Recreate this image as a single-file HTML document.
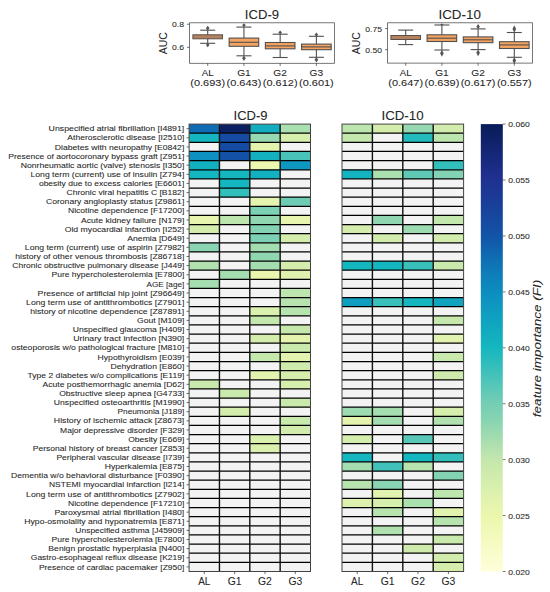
<!DOCTYPE html>
<html><head><meta charset="utf-8"><style>
html,body{margin:0;padding:0;background:#fff;width:550px;height:592px;overflow:hidden}
svg{display:block}
text{font-family:"Liberation Sans", sans-serif;stroke:#262626;stroke-width:0.07px}
</style></head><body>
<svg width="550" height="592" viewBox="0 0 550 592">
<rect width="550" height="592" fill="#fff"/>
<rect x="189.1" y="124.1" width="121.40" height="447.40" fill="#f3f3f3"/>
<rect x="189.10" y="124.10" width="30.35" height="9.13" fill="#106cb2"/>
<rect x="219.45" y="124.10" width="30.35" height="9.13" fill="#0c1f61"/>
<rect x="249.80" y="124.10" width="30.35" height="9.13" fill="#12adbf"/>
<rect x="280.15" y="124.10" width="30.35" height="9.13" fill="#aadfaf"/>
<rect x="189.10" y="133.23" width="30.35" height="9.13" fill="#14b7bf"/>
<rect x="219.45" y="133.23" width="30.35" height="9.13" fill="#154ba2"/>
<rect x="249.80" y="133.23" width="30.35" height="9.13" fill="#96d8b1"/>
<rect x="280.15" y="133.23" width="30.35" height="9.13" fill="#d7efad"/>
<rect x="219.45" y="142.36" width="30.35" height="9.13" fill="#154ba2"/>
<rect x="249.80" y="142.36" width="30.35" height="9.13" fill="#e4f4ae"/>
<rect x="189.10" y="151.49" width="30.35" height="9.13" fill="#0c91c0"/>
<rect x="219.45" y="151.49" width="30.35" height="9.13" fill="#1351a6"/>
<rect x="249.80" y="151.49" width="30.35" height="9.13" fill="#13b1bf"/>
<rect x="280.15" y="151.49" width="30.35" height="9.13" fill="#49c3b9"/>
<rect x="189.10" y="160.62" width="30.35" height="9.13" fill="#13b1bf"/>
<rect x="249.80" y="160.62" width="30.35" height="9.13" fill="#edf7b0"/>
<rect x="280.15" y="160.62" width="30.35" height="9.13" fill="#0e97c0"/>
<rect x="189.10" y="169.75" width="30.35" height="9.13" fill="#14b7bf"/>
<rect x="219.45" y="169.75" width="30.35" height="9.13" fill="#14b7bf"/>
<rect x="249.80" y="169.75" width="30.35" height="9.13" fill="#13b1bf"/>
<rect x="219.45" y="178.88" width="30.35" height="9.13" fill="#14b7bf"/>
<rect x="219.45" y="188.01" width="30.35" height="9.13" fill="#32bebb"/>
<rect x="249.80" y="197.14" width="30.35" height="9.13" fill="#e4f4ae"/>
<rect x="280.15" y="197.14" width="30.35" height="9.13" fill="#6eccb4"/>
<rect x="249.80" y="206.28" width="30.35" height="9.13" fill="#7cd0b3"/>
<rect x="189.10" y="215.41" width="30.35" height="9.13" fill="#e7f5ae"/>
<rect x="219.45" y="215.41" width="30.35" height="9.13" fill="#bde5ae"/>
<rect x="249.80" y="215.41" width="30.35" height="9.13" fill="#90d6b1"/>
<rect x="280.15" y="215.41" width="30.35" height="9.13" fill="#e7f5ae"/>
<rect x="189.10" y="224.54" width="30.35" height="9.13" fill="#d4edad"/>
<rect x="249.80" y="224.54" width="30.35" height="9.13" fill="#82d2b3"/>
<rect x="249.80" y="233.67" width="30.35" height="9.13" fill="#7cd0b3"/>
<rect x="280.15" y="233.67" width="30.35" height="9.13" fill="#d4edad"/>
<rect x="189.10" y="242.80" width="30.35" height="9.13" fill="#89d4b2"/>
<rect x="249.80" y="242.80" width="30.35" height="9.13" fill="#a3ddb0"/>
<rect x="249.80" y="251.93" width="30.35" height="9.13" fill="#90d6b1"/>
<rect x="189.10" y="261.06" width="30.35" height="9.13" fill="#b0e1af"/>
<rect x="249.80" y="261.06" width="30.35" height="9.13" fill="#a3ddb0"/>
<rect x="280.15" y="261.06" width="30.35" height="9.13" fill="#d4edad"/>
<rect x="219.45" y="270.19" width="30.35" height="9.13" fill="#a3ddb0"/>
<rect x="249.80" y="270.19" width="30.35" height="9.13" fill="#eaf6ae"/>
<rect x="280.15" y="270.19" width="30.35" height="9.13" fill="#def1ae"/>
<rect x="189.10" y="279.32" width="30.35" height="9.13" fill="#a3ddb0"/>
<rect x="280.15" y="288.45" width="30.35" height="9.13" fill="#bde5ae"/>
<rect x="280.15" y="297.58" width="30.35" height="9.13" fill="#b7e3ae"/>
<rect x="249.80" y="306.71" width="30.35" height="9.13" fill="#daf0ae"/>
<rect x="280.15" y="306.71" width="30.35" height="9.13" fill="#b7e3ae"/>
<rect x="249.80" y="315.84" width="30.35" height="9.13" fill="#c4e7ad"/>
<rect x="280.15" y="324.97" width="30.35" height="9.13" fill="#c7e8ad"/>
<rect x="249.80" y="334.10" width="30.35" height="9.13" fill="#d4edad"/>
<rect x="280.15" y="334.10" width="30.35" height="9.13" fill="#e4f4ae"/>
<rect x="280.15" y="343.23" width="30.35" height="9.13" fill="#caeaad"/>
<rect x="249.80" y="352.37" width="30.35" height="9.13" fill="#c7e8ad"/>
<rect x="280.15" y="352.37" width="30.35" height="9.13" fill="#e1f3ae"/>
<rect x="280.15" y="361.50" width="30.35" height="9.13" fill="#ceebad"/>
<rect x="249.80" y="370.63" width="30.35" height="9.13" fill="#e1f3ae"/>
<rect x="280.15" y="370.63" width="30.35" height="9.13" fill="#d4edad"/>
<rect x="189.10" y="379.76" width="30.35" height="9.13" fill="#caeaad"/>
<rect x="280.15" y="379.76" width="30.35" height="9.13" fill="#d7efad"/>
<rect x="219.45" y="388.89" width="30.35" height="9.13" fill="#caeaad"/>
<rect x="280.15" y="398.02" width="30.35" height="9.13" fill="#caeaad"/>
<rect x="219.45" y="407.15" width="30.35" height="9.13" fill="#d4edad"/>
<rect x="280.15" y="416.28" width="30.35" height="9.13" fill="#caeaad"/>
<rect x="280.15" y="425.41" width="30.35" height="9.13" fill="#d1ecad"/>
<rect x="249.80" y="434.54" width="30.35" height="9.13" fill="#daf0ae"/>
<rect x="249.80" y="443.67" width="30.35" height="9.13" fill="#daf0ae"/>
<line x1="189.1" y1="133.23" x2="310.5" y2="133.23" stroke="#000" stroke-width="1.25"/>
<line x1="189.1" y1="142.36" x2="310.5" y2="142.36" stroke="#000" stroke-width="1.25"/>
<line x1="189.1" y1="151.49" x2="310.5" y2="151.49" stroke="#000" stroke-width="1.25"/>
<line x1="189.1" y1="160.62" x2="310.5" y2="160.62" stroke="#000" stroke-width="1.25"/>
<line x1="189.1" y1="169.75" x2="310.5" y2="169.75" stroke="#000" stroke-width="1.25"/>
<line x1="189.1" y1="178.88" x2="310.5" y2="178.88" stroke="#000" stroke-width="1.25"/>
<line x1="189.1" y1="188.01" x2="310.5" y2="188.01" stroke="#000" stroke-width="1.25"/>
<line x1="189.1" y1="197.14" x2="310.5" y2="197.14" stroke="#000" stroke-width="1.25"/>
<line x1="189.1" y1="206.28" x2="310.5" y2="206.28" stroke="#000" stroke-width="1.25"/>
<line x1="189.1" y1="215.41" x2="310.5" y2="215.41" stroke="#000" stroke-width="1.25"/>
<line x1="189.1" y1="224.54" x2="310.5" y2="224.54" stroke="#000" stroke-width="1.25"/>
<line x1="189.1" y1="233.67" x2="310.5" y2="233.67" stroke="#000" stroke-width="1.25"/>
<line x1="189.1" y1="242.80" x2="310.5" y2="242.80" stroke="#000" stroke-width="1.25"/>
<line x1="189.1" y1="251.93" x2="310.5" y2="251.93" stroke="#000" stroke-width="1.25"/>
<line x1="189.1" y1="261.06" x2="310.5" y2="261.06" stroke="#000" stroke-width="1.25"/>
<line x1="189.1" y1="270.19" x2="310.5" y2="270.19" stroke="#000" stroke-width="1.25"/>
<line x1="189.1" y1="279.32" x2="310.5" y2="279.32" stroke="#000" stroke-width="1.25"/>
<line x1="189.1" y1="288.45" x2="310.5" y2="288.45" stroke="#000" stroke-width="1.25"/>
<line x1="189.1" y1="297.58" x2="310.5" y2="297.58" stroke="#000" stroke-width="1.25"/>
<line x1="189.1" y1="306.71" x2="310.5" y2="306.71" stroke="#000" stroke-width="1.25"/>
<line x1="189.1" y1="315.84" x2="310.5" y2="315.84" stroke="#000" stroke-width="1.25"/>
<line x1="189.1" y1="324.97" x2="310.5" y2="324.97" stroke="#000" stroke-width="1.25"/>
<line x1="189.1" y1="334.10" x2="310.5" y2="334.10" stroke="#000" stroke-width="1.25"/>
<line x1="189.1" y1="343.23" x2="310.5" y2="343.23" stroke="#000" stroke-width="1.25"/>
<line x1="189.1" y1="352.37" x2="310.5" y2="352.37" stroke="#000" stroke-width="1.25"/>
<line x1="189.1" y1="361.50" x2="310.5" y2="361.50" stroke="#000" stroke-width="1.25"/>
<line x1="189.1" y1="370.63" x2="310.5" y2="370.63" stroke="#000" stroke-width="1.25"/>
<line x1="189.1" y1="379.76" x2="310.5" y2="379.76" stroke="#000" stroke-width="1.25"/>
<line x1="189.1" y1="388.89" x2="310.5" y2="388.89" stroke="#000" stroke-width="1.25"/>
<line x1="189.1" y1="398.02" x2="310.5" y2="398.02" stroke="#000" stroke-width="1.25"/>
<line x1="189.1" y1="407.15" x2="310.5" y2="407.15" stroke="#000" stroke-width="1.25"/>
<line x1="189.1" y1="416.28" x2="310.5" y2="416.28" stroke="#000" stroke-width="1.25"/>
<line x1="189.1" y1="425.41" x2="310.5" y2="425.41" stroke="#000" stroke-width="1.25"/>
<line x1="189.1" y1="434.54" x2="310.5" y2="434.54" stroke="#000" stroke-width="1.25"/>
<line x1="189.1" y1="443.67" x2="310.5" y2="443.67" stroke="#000" stroke-width="1.25"/>
<line x1="189.1" y1="452.80" x2="310.5" y2="452.80" stroke="#000" stroke-width="1.25"/>
<line x1="189.1" y1="461.93" x2="310.5" y2="461.93" stroke="#000" stroke-width="1.25"/>
<line x1="189.1" y1="471.06" x2="310.5" y2="471.06" stroke="#000" stroke-width="1.25"/>
<line x1="189.1" y1="480.19" x2="310.5" y2="480.19" stroke="#000" stroke-width="1.25"/>
<line x1="189.1" y1="489.32" x2="310.5" y2="489.32" stroke="#000" stroke-width="1.25"/>
<line x1="189.1" y1="498.46" x2="310.5" y2="498.46" stroke="#000" stroke-width="1.25"/>
<line x1="189.1" y1="507.59" x2="310.5" y2="507.59" stroke="#000" stroke-width="1.25"/>
<line x1="189.1" y1="516.72" x2="310.5" y2="516.72" stroke="#000" stroke-width="1.25"/>
<line x1="189.1" y1="525.85" x2="310.5" y2="525.85" stroke="#000" stroke-width="1.25"/>
<line x1="189.1" y1="534.98" x2="310.5" y2="534.98" stroke="#000" stroke-width="1.25"/>
<line x1="189.1" y1="544.11" x2="310.5" y2="544.11" stroke="#000" stroke-width="1.25"/>
<line x1="189.1" y1="553.24" x2="310.5" y2="553.24" stroke="#000" stroke-width="1.25"/>
<line x1="189.1" y1="562.37" x2="310.5" y2="562.37" stroke="#000" stroke-width="1.25"/>
<line x1="219.45" y1="124.1" x2="219.45" y2="571.5" stroke="#111" stroke-width="1.4"/>
<line x1="249.80" y1="124.1" x2="249.80" y2="571.5" stroke="#111" stroke-width="1.4"/>
<line x1="280.15" y1="124.1" x2="280.15" y2="571.5" stroke="#111" stroke-width="1.4"/>
<rect x="189.1" y="124.1" width="121.40" height="447.40" fill="none" stroke="#444" stroke-width="1.0"/>
<line x1="204.28" y1="571.5" x2="204.28" y2="574.1" stroke="#333" stroke-width="0.7"/>
<line x1="234.62" y1="571.5" x2="234.62" y2="574.1" stroke="#333" stroke-width="0.7"/>
<line x1="264.98" y1="571.5" x2="264.98" y2="574.1" stroke="#333" stroke-width="0.7"/>
<line x1="295.32" y1="571.5" x2="295.32" y2="574.1" stroke="#333" stroke-width="0.7"/>
<text x="204.28" y="584.70" font-size="10.20" text-anchor="middle" fill="#262626" textLength="12.16" lengthAdjust="spacingAndGlyphs">AL</text>
<text x="234.62" y="584.70" font-size="10.20" text-anchor="middle" fill="#262626" textLength="13.83" lengthAdjust="spacingAndGlyphs">G1</text>
<text x="264.98" y="584.70" font-size="10.20" text-anchor="middle" fill="#262626" textLength="13.83" lengthAdjust="spacingAndGlyphs">G2</text>
<text x="295.32" y="584.70" font-size="10.20" text-anchor="middle" fill="#262626" textLength="13.83" lengthAdjust="spacingAndGlyphs">G3</text>
<rect x="342.0" y="124.1" width="121.60" height="447.40" fill="#f3f3f3"/>
<rect x="342.00" y="124.10" width="30.40" height="9.13" fill="#bde5ae"/>
<rect x="372.40" y="124.10" width="30.40" height="9.13" fill="#d4edad"/>
<rect x="402.80" y="124.10" width="30.40" height="9.13" fill="#96d8b1"/>
<rect x="433.20" y="124.10" width="30.40" height="9.13" fill="#d1ecad"/>
<rect x="342.00" y="133.23" width="30.40" height="9.13" fill="#c4e7ad"/>
<rect x="402.80" y="133.23" width="30.40" height="9.13" fill="#23bbbd"/>
<rect x="433.20" y="133.23" width="30.40" height="9.13" fill="#bde5ae"/>
<rect x="433.20" y="160.62" width="30.40" height="9.13" fill="#32bebb"/>
<rect x="342.00" y="169.75" width="30.40" height="9.13" fill="#13b4bf"/>
<rect x="372.40" y="169.75" width="30.40" height="9.13" fill="#aadfaf"/>
<rect x="402.80" y="169.75" width="30.40" height="9.13" fill="#5fc9b6"/>
<rect x="433.20" y="169.75" width="30.40" height="9.13" fill="#82d2b3"/>
<rect x="372.40" y="215.41" width="30.40" height="9.13" fill="#90d6b1"/>
<rect x="433.20" y="215.41" width="30.40" height="9.13" fill="#c4e7ad"/>
<rect x="342.00" y="224.54" width="30.40" height="9.13" fill="#d4edad"/>
<rect x="402.80" y="224.54" width="30.40" height="9.13" fill="#9ddbb0"/>
<rect x="372.40" y="233.67" width="30.40" height="9.13" fill="#d1ecad"/>
<rect x="433.20" y="233.67" width="30.40" height="9.13" fill="#d1ecad"/>
<rect x="342.00" y="261.06" width="30.40" height="9.13" fill="#14b7bf"/>
<rect x="372.40" y="261.06" width="30.40" height="9.13" fill="#14b7bf"/>
<rect x="402.80" y="261.06" width="30.40" height="9.13" fill="#3ac0bb"/>
<rect x="433.20" y="261.06" width="30.40" height="9.13" fill="#caeaad"/>
<rect x="342.00" y="297.58" width="30.40" height="9.13" fill="#0f9dc0"/>
<rect x="372.40" y="297.58" width="30.40" height="9.13" fill="#3ac0bb"/>
<rect x="402.80" y="297.58" width="30.40" height="9.13" fill="#14b7bf"/>
<rect x="433.20" y="297.58" width="30.40" height="9.13" fill="#10a4bf"/>
<rect x="433.20" y="315.84" width="30.40" height="9.13" fill="#c7e8ad"/>
<rect x="433.20" y="334.10" width="30.40" height="9.13" fill="#e1f3ae"/>
<rect x="433.20" y="352.37" width="30.40" height="9.13" fill="#caeaad"/>
<rect x="433.20" y="370.63" width="30.40" height="9.13" fill="#ceebad"/>
<rect x="342.00" y="407.15" width="30.40" height="9.13" fill="#9ddbb0"/>
<rect x="372.40" y="407.15" width="30.40" height="9.13" fill="#a3ddb0"/>
<rect x="433.20" y="407.15" width="30.40" height="9.13" fill="#d7efad"/>
<rect x="342.00" y="416.28" width="30.40" height="9.13" fill="#e4f4ae"/>
<rect x="372.40" y="416.28" width="30.40" height="9.13" fill="#a3ddb0"/>
<rect x="433.20" y="416.28" width="30.40" height="9.13" fill="#b0e1af"/>
<rect x="342.00" y="434.54" width="30.40" height="9.13" fill="#d4edad"/>
<rect x="402.80" y="434.54" width="30.40" height="9.13" fill="#58c7b7"/>
<rect x="342.00" y="452.80" width="30.40" height="9.13" fill="#14b7bf"/>
<rect x="402.80" y="452.80" width="30.40" height="9.13" fill="#14b7bf"/>
<rect x="433.20" y="452.80" width="30.40" height="9.13" fill="#32bebb"/>
<rect x="342.00" y="461.93" width="30.40" height="9.13" fill="#a3ddb0"/>
<rect x="372.40" y="461.93" width="30.40" height="9.13" fill="#41c2ba"/>
<rect x="402.80" y="461.93" width="30.40" height="9.13" fill="#b7e3ae"/>
<rect x="433.20" y="471.06" width="30.40" height="9.13" fill="#82d2b3"/>
<rect x="342.00" y="480.19" width="30.40" height="9.13" fill="#b7e3ae"/>
<rect x="372.40" y="480.19" width="30.40" height="9.13" fill="#89d4b2"/>
<rect x="372.40" y="489.32" width="30.40" height="9.13" fill="#e1f3ae"/>
<rect x="433.20" y="489.32" width="30.40" height="9.13" fill="#bde5ae"/>
<rect x="342.00" y="498.46" width="30.40" height="9.13" fill="#def1ae"/>
<rect x="372.40" y="498.46" width="30.40" height="9.13" fill="#d7efad"/>
<rect x="402.80" y="498.46" width="30.40" height="9.13" fill="#aadfaf"/>
<rect x="372.40" y="507.59" width="30.40" height="9.13" fill="#b7e3ae"/>
<rect x="433.20" y="507.59" width="30.40" height="9.13" fill="#e1f3ae"/>
<rect x="433.20" y="516.72" width="30.40" height="9.13" fill="#b7e3ae"/>
<rect x="372.40" y="525.85" width="30.40" height="9.13" fill="#b0e1af"/>
<rect x="433.20" y="534.98" width="30.40" height="9.13" fill="#caeaad"/>
<rect x="402.80" y="544.11" width="30.40" height="9.13" fill="#ceebad"/>
<rect x="433.20" y="553.24" width="30.40" height="9.13" fill="#d1ecad"/>
<rect x="433.20" y="562.37" width="30.40" height="9.13" fill="#d4edad"/>
<line x1="342.0" y1="133.23" x2="463.6" y2="133.23" stroke="#000" stroke-width="1.25"/>
<line x1="342.0" y1="142.36" x2="463.6" y2="142.36" stroke="#000" stroke-width="1.25"/>
<line x1="342.0" y1="151.49" x2="463.6" y2="151.49" stroke="#000" stroke-width="1.25"/>
<line x1="342.0" y1="160.62" x2="463.6" y2="160.62" stroke="#000" stroke-width="1.25"/>
<line x1="342.0" y1="169.75" x2="463.6" y2="169.75" stroke="#000" stroke-width="1.25"/>
<line x1="342.0" y1="178.88" x2="463.6" y2="178.88" stroke="#000" stroke-width="1.25"/>
<line x1="342.0" y1="188.01" x2="463.6" y2="188.01" stroke="#000" stroke-width="1.25"/>
<line x1="342.0" y1="197.14" x2="463.6" y2="197.14" stroke="#000" stroke-width="1.25"/>
<line x1="342.0" y1="206.28" x2="463.6" y2="206.28" stroke="#000" stroke-width="1.25"/>
<line x1="342.0" y1="215.41" x2="463.6" y2="215.41" stroke="#000" stroke-width="1.25"/>
<line x1="342.0" y1="224.54" x2="463.6" y2="224.54" stroke="#000" stroke-width="1.25"/>
<line x1="342.0" y1="233.67" x2="463.6" y2="233.67" stroke="#000" stroke-width="1.25"/>
<line x1="342.0" y1="242.80" x2="463.6" y2="242.80" stroke="#000" stroke-width="1.25"/>
<line x1="342.0" y1="251.93" x2="463.6" y2="251.93" stroke="#000" stroke-width="1.25"/>
<line x1="342.0" y1="261.06" x2="463.6" y2="261.06" stroke="#000" stroke-width="1.25"/>
<line x1="342.0" y1="270.19" x2="463.6" y2="270.19" stroke="#000" stroke-width="1.25"/>
<line x1="342.0" y1="279.32" x2="463.6" y2="279.32" stroke="#000" stroke-width="1.25"/>
<line x1="342.0" y1="288.45" x2="463.6" y2="288.45" stroke="#000" stroke-width="1.25"/>
<line x1="342.0" y1="297.58" x2="463.6" y2="297.58" stroke="#000" stroke-width="1.25"/>
<line x1="342.0" y1="306.71" x2="463.6" y2="306.71" stroke="#000" stroke-width="1.25"/>
<line x1="342.0" y1="315.84" x2="463.6" y2="315.84" stroke="#000" stroke-width="1.25"/>
<line x1="342.0" y1="324.97" x2="463.6" y2="324.97" stroke="#000" stroke-width="1.25"/>
<line x1="342.0" y1="334.10" x2="463.6" y2="334.10" stroke="#000" stroke-width="1.25"/>
<line x1="342.0" y1="343.23" x2="463.6" y2="343.23" stroke="#000" stroke-width="1.25"/>
<line x1="342.0" y1="352.37" x2="463.6" y2="352.37" stroke="#000" stroke-width="1.25"/>
<line x1="342.0" y1="361.50" x2="463.6" y2="361.50" stroke="#000" stroke-width="1.25"/>
<line x1="342.0" y1="370.63" x2="463.6" y2="370.63" stroke="#000" stroke-width="1.25"/>
<line x1="342.0" y1="379.76" x2="463.6" y2="379.76" stroke="#000" stroke-width="1.25"/>
<line x1="342.0" y1="388.89" x2="463.6" y2="388.89" stroke="#000" stroke-width="1.25"/>
<line x1="342.0" y1="398.02" x2="463.6" y2="398.02" stroke="#000" stroke-width="1.25"/>
<line x1="342.0" y1="407.15" x2="463.6" y2="407.15" stroke="#000" stroke-width="1.25"/>
<line x1="342.0" y1="416.28" x2="463.6" y2="416.28" stroke="#000" stroke-width="1.25"/>
<line x1="342.0" y1="425.41" x2="463.6" y2="425.41" stroke="#000" stroke-width="1.25"/>
<line x1="342.0" y1="434.54" x2="463.6" y2="434.54" stroke="#000" stroke-width="1.25"/>
<line x1="342.0" y1="443.67" x2="463.6" y2="443.67" stroke="#000" stroke-width="1.25"/>
<line x1="342.0" y1="452.80" x2="463.6" y2="452.80" stroke="#000" stroke-width="1.25"/>
<line x1="342.0" y1="461.93" x2="463.6" y2="461.93" stroke="#000" stroke-width="1.25"/>
<line x1="342.0" y1="471.06" x2="463.6" y2="471.06" stroke="#000" stroke-width="1.25"/>
<line x1="342.0" y1="480.19" x2="463.6" y2="480.19" stroke="#000" stroke-width="1.25"/>
<line x1="342.0" y1="489.32" x2="463.6" y2="489.32" stroke="#000" stroke-width="1.25"/>
<line x1="342.0" y1="498.46" x2="463.6" y2="498.46" stroke="#000" stroke-width="1.25"/>
<line x1="342.0" y1="507.59" x2="463.6" y2="507.59" stroke="#000" stroke-width="1.25"/>
<line x1="342.0" y1="516.72" x2="463.6" y2="516.72" stroke="#000" stroke-width="1.25"/>
<line x1="342.0" y1="525.85" x2="463.6" y2="525.85" stroke="#000" stroke-width="1.25"/>
<line x1="342.0" y1="534.98" x2="463.6" y2="534.98" stroke="#000" stroke-width="1.25"/>
<line x1="342.0" y1="544.11" x2="463.6" y2="544.11" stroke="#000" stroke-width="1.25"/>
<line x1="342.0" y1="553.24" x2="463.6" y2="553.24" stroke="#000" stroke-width="1.25"/>
<line x1="342.0" y1="562.37" x2="463.6" y2="562.37" stroke="#000" stroke-width="1.25"/>
<line x1="372.40" y1="124.1" x2="372.40" y2="571.5" stroke="#111" stroke-width="1.4"/>
<line x1="402.80" y1="124.1" x2="402.80" y2="571.5" stroke="#111" stroke-width="1.4"/>
<line x1="433.20" y1="124.1" x2="433.20" y2="571.5" stroke="#111" stroke-width="1.4"/>
<rect x="342.0" y="124.1" width="121.60" height="447.40" fill="none" stroke="#444" stroke-width="1.0"/>
<line x1="357.20" y1="571.5" x2="357.20" y2="574.1" stroke="#333" stroke-width="0.7"/>
<line x1="387.60" y1="571.5" x2="387.60" y2="574.1" stroke="#333" stroke-width="0.7"/>
<line x1="418.00" y1="571.5" x2="418.00" y2="574.1" stroke="#333" stroke-width="0.7"/>
<line x1="448.40" y1="571.5" x2="448.40" y2="574.1" stroke="#333" stroke-width="0.7"/>
<text x="357.20" y="584.70" font-size="10.20" text-anchor="middle" fill="#262626" textLength="12.16" lengthAdjust="spacingAndGlyphs">AL</text>
<text x="387.60" y="584.70" font-size="10.20" text-anchor="middle" fill="#262626" textLength="13.83" lengthAdjust="spacingAndGlyphs">G1</text>
<text x="418.00" y="584.70" font-size="10.20" text-anchor="middle" fill="#262626" textLength="13.83" lengthAdjust="spacingAndGlyphs">G2</text>
<text x="448.40" y="584.70" font-size="10.20" text-anchor="middle" fill="#262626" textLength="13.83" lengthAdjust="spacingAndGlyphs">G3</text>
<line x1="186.5" y1="128.67" x2="189.1" y2="128.67" stroke="#333" stroke-width="0.7"/>
<text x="184.30" y="131.32" font-size="7.80" text-anchor="end" fill="#262626" textLength="135.66" lengthAdjust="spacingAndGlyphs">Unspecified atrial fibrillation [I4891]</text>
<line x1="186.5" y1="137.80" x2="189.1" y2="137.80" stroke="#333" stroke-width="0.7"/>
<text x="184.30" y="140.45" font-size="7.80" text-anchor="end" fill="#262626" textLength="116.91" lengthAdjust="spacingAndGlyphs">Atherosclerotic disease [I2510]</text>
<line x1="186.5" y1="146.93" x2="189.1" y2="146.93" stroke="#333" stroke-width="0.7"/>
<text x="184.30" y="149.58" font-size="7.80" text-anchor="end" fill="#262626" textLength="129.50" lengthAdjust="spacingAndGlyphs">Diabetes with neuropathy [E0842]</text>
<line x1="186.5" y1="156.06" x2="189.1" y2="156.06" stroke="#333" stroke-width="0.7"/>
<text x="184.30" y="158.71" font-size="7.80" text-anchor="end" fill="#262626" textLength="176.01" lengthAdjust="spacingAndGlyphs">Presence of aortocoronary bypass graft [Z951]</text>
<line x1="186.5" y1="165.19" x2="189.1" y2="165.19" stroke="#333" stroke-width="0.7"/>
<text x="184.30" y="167.84" font-size="7.80" text-anchor="end" fill="#262626" textLength="163.57" lengthAdjust="spacingAndGlyphs">Nonrheumatic aortic (valve) stenosis [I350]</text>
<line x1="186.5" y1="174.32" x2="189.1" y2="174.32" stroke="#333" stroke-width="0.7"/>
<text x="184.30" y="176.97" font-size="7.80" text-anchor="end" fill="#262626" textLength="153.81" lengthAdjust="spacingAndGlyphs">Long term (current) use of insulin [Z794]</text>
<line x1="186.5" y1="183.45" x2="189.1" y2="183.45" stroke="#333" stroke-width="0.7"/>
<text x="184.30" y="186.10" font-size="7.80" text-anchor="end" fill="#262626" textLength="145.40" lengthAdjust="spacingAndGlyphs">obesity due to excess calories [E6601]</text>
<line x1="186.5" y1="192.58" x2="189.1" y2="192.58" stroke="#333" stroke-width="0.7"/>
<text x="184.30" y="195.23" font-size="7.80" text-anchor="end" fill="#262626" textLength="117.82" lengthAdjust="spacingAndGlyphs">Chronic viral hepatitis C [B182]</text>
<line x1="186.5" y1="201.71" x2="189.1" y2="201.71" stroke="#333" stroke-width="0.7"/>
<text x="184.30" y="204.36" font-size="7.80" text-anchor="end" fill="#262626" textLength="138.36" lengthAdjust="spacingAndGlyphs">Coronary angioplasty status [Z9861]</text>
<line x1="186.5" y1="210.84" x2="189.1" y2="210.84" stroke="#333" stroke-width="0.7"/>
<text x="184.30" y="213.49" font-size="7.80" text-anchor="end" fill="#262626" textLength="116.27" lengthAdjust="spacingAndGlyphs">Nicotine dependence [F17200]</text>
<line x1="186.5" y1="219.97" x2="189.1" y2="219.97" stroke="#333" stroke-width="0.7"/>
<text x="184.30" y="222.62" font-size="7.80" text-anchor="end" fill="#262626" textLength="103.32" lengthAdjust="spacingAndGlyphs">Acute kidney failure [N179]</text>
<line x1="186.5" y1="229.10" x2="189.1" y2="229.10" stroke="#333" stroke-width="0.7"/>
<text x="184.30" y="231.75" font-size="7.80" text-anchor="end" fill="#262626" textLength="119.61" lengthAdjust="spacingAndGlyphs">Old myocardial infarction [I252]</text>
<line x1="186.5" y1="238.23" x2="189.1" y2="238.23" stroke="#333" stroke-width="0.7"/>
<text x="184.30" y="240.88" font-size="7.80" text-anchor="end" fill="#262626" textLength="56.96" lengthAdjust="spacingAndGlyphs">Anemia [D649]</text>
<line x1="186.5" y1="247.36" x2="189.1" y2="247.36" stroke="#333" stroke-width="0.7"/>
<text x="184.30" y="250.01" font-size="7.80" text-anchor="end" fill="#262626" textLength="159.45" lengthAdjust="spacingAndGlyphs">Long term (current) use of aspirin [Z7982]</text>
<line x1="186.5" y1="256.49" x2="189.1" y2="256.49" stroke="#333" stroke-width="0.7"/>
<text x="184.30" y="259.14" font-size="7.80" text-anchor="end" fill="#262626" textLength="169.04" lengthAdjust="spacingAndGlyphs">history of other venous thrombosis [Z86718]</text>
<line x1="186.5" y1="265.62" x2="189.1" y2="265.62" stroke="#333" stroke-width="0.7"/>
<text x="184.30" y="268.27" font-size="7.80" text-anchor="end" fill="#262626" textLength="171.91" lengthAdjust="spacingAndGlyphs">Chronic obstructive pulmonary disease [J449]</text>
<line x1="186.5" y1="274.76" x2="189.1" y2="274.76" stroke="#333" stroke-width="0.7"/>
<text x="184.30" y="277.41" font-size="7.80" text-anchor="end" fill="#262626" textLength="132.78" lengthAdjust="spacingAndGlyphs">Pure hypercholesterolemia [E7800]</text>
<line x1="186.5" y1="283.89" x2="189.1" y2="283.89" stroke="#333" stroke-width="0.7"/>
<text x="184.30" y="286.54" font-size="7.80" text-anchor="end" fill="#262626" textLength="37.86" lengthAdjust="spacingAndGlyphs">AGE [age]</text>
<line x1="186.5" y1="293.02" x2="189.1" y2="293.02" stroke="#333" stroke-width="0.7"/>
<text x="184.30" y="295.67" font-size="7.80" text-anchor="end" fill="#262626" textLength="146.69" lengthAdjust="spacingAndGlyphs">Presence of artificial hip joint [Z96649]</text>
<line x1="186.5" y1="302.15" x2="189.1" y2="302.15" stroke="#333" stroke-width="0.7"/>
<text x="184.30" y="304.80" font-size="7.80" text-anchor="end" fill="#262626" textLength="158.17" lengthAdjust="spacingAndGlyphs">Long term use of antithrombotics [Z7901]</text>
<line x1="186.5" y1="311.28" x2="189.1" y2="311.28" stroke="#333" stroke-width="0.7"/>
<text x="184.30" y="313.93" font-size="7.80" text-anchor="end" fill="#262626" textLength="154.13" lengthAdjust="spacingAndGlyphs">history of nicotine dependence [Z87891]</text>
<line x1="186.5" y1="320.41" x2="189.1" y2="320.41" stroke="#333" stroke-width="0.7"/>
<text x="184.30" y="323.06" font-size="7.80" text-anchor="end" fill="#262626" textLength="47.24" lengthAdjust="spacingAndGlyphs">Gout [M109]</text>
<line x1="186.5" y1="329.54" x2="189.1" y2="329.54" stroke="#333" stroke-width="0.7"/>
<text x="184.30" y="332.19" font-size="7.80" text-anchor="end" fill="#262626" textLength="111.51" lengthAdjust="spacingAndGlyphs">Unspecified glaucoma [H409]</text>
<line x1="186.5" y1="338.67" x2="189.1" y2="338.67" stroke="#333" stroke-width="0.7"/>
<text x="184.30" y="341.32" font-size="7.80" text-anchor="end" fill="#262626" textLength="111.02" lengthAdjust="spacingAndGlyphs">Urinary tract infection [N390]</text>
<line x1="186.5" y1="347.80" x2="189.1" y2="347.80" stroke="#333" stroke-width="0.7"/>
<text x="184.30" y="350.45" font-size="7.80" text-anchor="end" fill="#262626" textLength="172.91" lengthAdjust="spacingAndGlyphs">osteoporosis w/o pathological fracture [M810]</text>
<line x1="186.5" y1="356.93" x2="189.1" y2="356.93" stroke="#333" stroke-width="0.7"/>
<text x="184.30" y="359.58" font-size="7.80" text-anchor="end" fill="#262626" textLength="86.73" lengthAdjust="spacingAndGlyphs">Hypothyroidism [E039]</text>
<line x1="186.5" y1="366.06" x2="189.1" y2="366.06" stroke="#333" stroke-width="0.7"/>
<text x="184.30" y="368.71" font-size="7.80" text-anchor="end" fill="#262626" textLength="73.87" lengthAdjust="spacingAndGlyphs">Dehydration [E860]</text>
<line x1="186.5" y1="375.19" x2="189.1" y2="375.19" stroke="#333" stroke-width="0.7"/>
<text x="184.30" y="377.84" font-size="7.80" text-anchor="end" fill="#262626" textLength="156.71" lengthAdjust="spacingAndGlyphs">Type 2 diabetes w/o complications [E119]</text>
<line x1="186.5" y1="384.32" x2="189.1" y2="384.32" stroke="#333" stroke-width="0.7"/>
<text x="184.30" y="386.97" font-size="7.80" text-anchor="end" fill="#262626" textLength="141.76" lengthAdjust="spacingAndGlyphs">Acute posthemorrhagic anemia [D62]</text>
<line x1="186.5" y1="393.45" x2="189.1" y2="393.45" stroke="#333" stroke-width="0.7"/>
<text x="184.30" y="396.10" font-size="7.80" text-anchor="end" fill="#262626" textLength="125.09" lengthAdjust="spacingAndGlyphs">Obstructive sleep apnea [G4733]</text>
<line x1="186.5" y1="402.58" x2="189.1" y2="402.58" stroke="#333" stroke-width="0.7"/>
<text x="184.30" y="405.23" font-size="7.80" text-anchor="end" fill="#262626" textLength="130.47" lengthAdjust="spacingAndGlyphs">Unspecified osteoarthritis [M1990]</text>
<line x1="186.5" y1="411.71" x2="189.1" y2="411.71" stroke="#333" stroke-width="0.7"/>
<text x="184.30" y="414.36" font-size="7.80" text-anchor="end" fill="#262626" textLength="66.78" lengthAdjust="spacingAndGlyphs">Pneumonia [J189]</text>
<line x1="186.5" y1="420.84" x2="189.1" y2="420.84" stroke="#333" stroke-width="0.7"/>
<text x="184.30" y="423.49" font-size="7.80" text-anchor="end" fill="#262626" textLength="130.41" lengthAdjust="spacingAndGlyphs">History of ischemic attack [Z8673]</text>
<line x1="186.5" y1="429.98" x2="189.1" y2="429.98" stroke="#333" stroke-width="0.7"/>
<text x="184.30" y="432.63" font-size="7.80" text-anchor="end" fill="#262626" textLength="124.16" lengthAdjust="spacingAndGlyphs">Major depressive disorder [F329]</text>
<line x1="186.5" y1="439.11" x2="189.1" y2="439.11" stroke="#333" stroke-width="0.7"/>
<text x="184.30" y="441.76" font-size="7.80" text-anchor="end" fill="#262626" textLength="56.09" lengthAdjust="spacingAndGlyphs">Obesity [E669]</text>
<line x1="186.5" y1="448.24" x2="189.1" y2="448.24" stroke="#333" stroke-width="0.7"/>
<text x="184.30" y="450.89" font-size="7.80" text-anchor="end" fill="#262626" textLength="151.57" lengthAdjust="spacingAndGlyphs">Personal history of breast cancer [Z853]</text>
<line x1="186.5" y1="457.37" x2="189.1" y2="457.37" stroke="#333" stroke-width="0.7"/>
<text x="184.30" y="460.02" font-size="7.80" text-anchor="end" fill="#262626" textLength="127.87" lengthAdjust="spacingAndGlyphs">Peripheral vascular disease [I739]</text>
<line x1="186.5" y1="466.50" x2="189.1" y2="466.50" stroke="#333" stroke-width="0.7"/>
<text x="184.30" y="469.15" font-size="7.80" text-anchor="end" fill="#262626" textLength="79.53" lengthAdjust="spacingAndGlyphs">Hyperkalemia [E875]</text>
<line x1="186.5" y1="475.63" x2="189.1" y2="475.63" stroke="#333" stroke-width="0.7"/>
<text x="184.30" y="478.28" font-size="7.80" text-anchor="end" fill="#262626" textLength="173.16" lengthAdjust="spacingAndGlyphs">Dementia w/o behavioral disturbance [F0390]</text>
<line x1="186.5" y1="484.76" x2="189.1" y2="484.76" stroke="#333" stroke-width="0.7"/>
<text x="184.30" y="487.41" font-size="7.80" text-anchor="end" fill="#262626" textLength="135.28" lengthAdjust="spacingAndGlyphs">NSTEMI myocardial infarction [I214]</text>
<line x1="186.5" y1="493.89" x2="189.1" y2="493.89" stroke="#333" stroke-width="0.7"/>
<text x="184.30" y="496.54" font-size="7.80" text-anchor="end" fill="#262626" textLength="158.17" lengthAdjust="spacingAndGlyphs">Long term use of antithrombotics [Z7902]</text>
<line x1="186.5" y1="503.02" x2="189.1" y2="503.02" stroke="#333" stroke-width="0.7"/>
<text x="184.30" y="505.67" font-size="7.80" text-anchor="end" fill="#262626" textLength="116.27" lengthAdjust="spacingAndGlyphs">Nicotine dependence [F17210]</text>
<line x1="186.5" y1="512.15" x2="189.1" y2="512.15" stroke="#333" stroke-width="0.7"/>
<text x="184.30" y="514.80" font-size="7.80" text-anchor="end" fill="#262626" textLength="129.87" lengthAdjust="spacingAndGlyphs">Paroxysmal atrial fibrillation [I480]</text>
<line x1="186.5" y1="521.28" x2="189.1" y2="521.28" stroke="#333" stroke-width="0.7"/>
<text x="184.30" y="523.93" font-size="7.80" text-anchor="end" fill="#262626" textLength="159.97" lengthAdjust="spacingAndGlyphs">Hypo-osmolality and hyponatremia [E871]</text>
<line x1="186.5" y1="530.41" x2="189.1" y2="530.41" stroke="#333" stroke-width="0.7"/>
<text x="184.30" y="533.06" font-size="7.80" text-anchor="end" fill="#262626" textLength="108.91" lengthAdjust="spacingAndGlyphs">Unspecified asthma [J45909]</text>
<line x1="186.5" y1="539.54" x2="189.1" y2="539.54" stroke="#333" stroke-width="0.7"/>
<text x="184.30" y="542.19" font-size="7.80" text-anchor="end" fill="#262626" textLength="132.78" lengthAdjust="spacingAndGlyphs">Pure hypercholesterolemia [E7800]</text>
<line x1="186.5" y1="548.67" x2="189.1" y2="548.67" stroke="#333" stroke-width="0.7"/>
<text x="184.30" y="551.32" font-size="7.80" text-anchor="end" fill="#262626" textLength="135.94" lengthAdjust="spacingAndGlyphs">Benign prostatic hyperplasia [N400]</text>
<line x1="186.5" y1="557.80" x2="189.1" y2="557.80" stroke="#333" stroke-width="0.7"/>
<text x="184.30" y="560.45" font-size="7.80" text-anchor="end" fill="#262626" textLength="153.46" lengthAdjust="spacingAndGlyphs">Gastro-esophageal reflux disease [K219]</text>
<line x1="186.5" y1="566.93" x2="189.1" y2="566.93" stroke="#333" stroke-width="0.7"/>
<text x="184.30" y="569.58" font-size="7.80" text-anchor="end" fill="#262626" textLength="145.40" lengthAdjust="spacingAndGlyphs">Presence of cardiac pacemaker [Z950]</text>
<text x="250.50" y="120.20" font-size="12.00" text-anchor="middle" fill="#262626" textLength="33.95" lengthAdjust="spacingAndGlyphs">ICD-9</text>
<text x="402.50" y="120.20" font-size="12.00" text-anchor="middle" fill="#262626" textLength="42.12" lengthAdjust="spacingAndGlyphs">ICD-10</text>
<defs><linearGradient id="cb" x1="0" y1="0" x2="0" y2="1"><stop offset="0.00" stop-color="#081c58"/><stop offset="0.03" stop-color="#0e2166"/><stop offset="0.06" stop-color="#142674"/><stop offset="0.09" stop-color="#192b82"/><stop offset="0.12" stop-color="#1f3090"/><stop offset="0.16" stop-color="#1c3996"/><stop offset="0.19" stop-color="#18429c"/><stop offset="0.22" stop-color="#154ba2"/><stop offset="0.25" stop-color="#1254a8"/><stop offset="0.28" stop-color="#1063ae"/><stop offset="0.31" stop-color="#0f72b4"/><stop offset="0.34" stop-color="#0e80ba"/><stop offset="0.38" stop-color="#0c8fc0"/><stop offset="0.41" stop-color="#0e99c0"/><stop offset="0.44" stop-color="#10a3c0"/><stop offset="0.47" stop-color="#12adbf"/><stop offset="0.50" stop-color="#14b7bf"/><stop offset="0.53" stop-color="#2cbcbc"/><stop offset="0.56" stop-color="#43c2ba"/><stop offset="0.59" stop-color="#5ac8b7"/><stop offset="0.62" stop-color="#72cdb4"/><stop offset="0.66" stop-color="#86d4b2"/><stop offset="0.69" stop-color="#9bdab0"/><stop offset="0.72" stop-color="#b0e0af"/><stop offset="0.75" stop-color="#c4e7ad"/><stop offset="0.78" stop-color="#ceebad"/><stop offset="0.81" stop-color="#d8efae"/><stop offset="0.84" stop-color="#e2f3ae"/><stop offset="0.88" stop-color="#ecf7ae"/><stop offset="0.91" stop-color="#f1f9b9"/><stop offset="0.94" stop-color="#f6fbc4"/><stop offset="0.97" stop-color="#fafdce"/><stop offset="1.00" stop-color="#ffffd9"/></linearGradient></defs>
<rect x="480.8" y="124.1" width="22.0" height="447.40" fill="url(#cb)"/>
<line x1="502.8" y1="124.10" x2="505.5" y2="124.10" stroke="#333" stroke-width="0.7"/>
<text x="508.30" y="127.30" font-size="8.00" text-anchor="start" fill="#262626" textLength="21.33" lengthAdjust="spacingAndGlyphs">0.060</text>
<line x1="502.8" y1="180.02" x2="505.5" y2="180.02" stroke="#333" stroke-width="0.7"/>
<text x="508.30" y="183.22" font-size="8.00" text-anchor="start" fill="#262626" textLength="21.33" lengthAdjust="spacingAndGlyphs">0.055</text>
<line x1="502.8" y1="235.95" x2="505.5" y2="235.95" stroke="#333" stroke-width="0.7"/>
<text x="508.30" y="239.15" font-size="8.00" text-anchor="start" fill="#262626" textLength="21.33" lengthAdjust="spacingAndGlyphs">0.050</text>
<line x1="502.8" y1="291.88" x2="505.5" y2="291.88" stroke="#333" stroke-width="0.7"/>
<text x="508.30" y="295.07" font-size="8.00" text-anchor="start" fill="#262626" textLength="21.33" lengthAdjust="spacingAndGlyphs">0.045</text>
<line x1="502.8" y1="347.80" x2="505.5" y2="347.80" stroke="#333" stroke-width="0.7"/>
<text x="508.30" y="351.00" font-size="8.00" text-anchor="start" fill="#262626" textLength="21.33" lengthAdjust="spacingAndGlyphs">0.040</text>
<line x1="502.8" y1="403.73" x2="505.5" y2="403.73" stroke="#333" stroke-width="0.7"/>
<text x="508.30" y="406.93" font-size="8.00" text-anchor="start" fill="#262626" textLength="21.33" lengthAdjust="spacingAndGlyphs">0.035</text>
<line x1="502.8" y1="459.65" x2="505.5" y2="459.65" stroke="#333" stroke-width="0.7"/>
<text x="508.30" y="462.85" font-size="8.00" text-anchor="start" fill="#262626" textLength="21.33" lengthAdjust="spacingAndGlyphs">0.030</text>
<line x1="502.8" y1="515.57" x2="505.5" y2="515.57" stroke="#333" stroke-width="0.7"/>
<text x="508.30" y="518.77" font-size="8.00" text-anchor="start" fill="#262626" textLength="21.33" lengthAdjust="spacingAndGlyphs">0.025</text>
<line x1="502.8" y1="571.50" x2="505.5" y2="571.50" stroke="#333" stroke-width="0.7"/>
<text x="508.30" y="574.70" font-size="8.00" text-anchor="start" fill="#262626" textLength="21.33" lengthAdjust="spacingAndGlyphs">0.020</text>
<text transform="translate(541.3,348.4) rotate(-90)" x="0" y="0" font-size="11.8" font-style="italic" text-anchor="middle" fill="#262626" textLength="137.5" lengthAdjust="spacingAndGlyphs">feature importance (FI)</text>
<rect x="189.6" y="22.8" width="144.90" height="40.50" fill="none" stroke="#555" stroke-width="0.8"/>
<line x1="187.0" y1="24.2" x2="189.6" y2="24.2" stroke="#333" stroke-width="0.7"/>
<line x1="187.0" y1="47.3" x2="189.6" y2="47.3" stroke="#333" stroke-width="0.7"/>
<path d="M207.71,25.70 L209.51,28.15 L207.71,30.40 L205.91,28.15 Z" fill="#555555"/>
<path d="M207.71,47.20 L209.51,45.05 L207.71,43.10 L205.91,45.05 Z" fill="#555555"/>
<line x1="207.71" y1="30.2" x2="207.71" y2="43.3" stroke="#505050" stroke-width="1.1"/>
<line x1="200.21" y1="30.2" x2="215.21" y2="30.2" stroke="#505050" stroke-width="1.1"/>
<line x1="200.21" y1="43.3" x2="215.21" y2="43.3" stroke="#505050" stroke-width="1.1"/>
<rect x="192.91" y="34.8" width="29.6" height="4.00" fill="#b4825f" stroke="#5a5048" stroke-width="1.0"/>
<line x1="207.71" y1="63.3" x2="207.71" y2="65.89999999999999" stroke="#333" stroke-width="0.7"/>
<path d="M243.94,23.20 L245.74,25.35 L243.94,27.30 L242.14,25.35 Z" fill="#555555"/>
<path d="M243.94,60.90 L245.74,58.15 L243.94,55.60 L242.14,58.15 Z" fill="#555555"/>
<line x1="243.94" y1="27.1" x2="243.94" y2="55.8" stroke="#505050" stroke-width="1.1"/>
<line x1="236.44" y1="27.1" x2="251.44" y2="27.1" stroke="#505050" stroke-width="1.1"/>
<line x1="236.44" y1="55.8" x2="251.44" y2="55.8" stroke="#505050" stroke-width="1.1"/>
<rect x="229.14" y="38.1" width="29.6" height="8.20" fill="#f4a460" stroke="#505050" stroke-width="1.1"/>
<line x1="229.14" y1="42.3" x2="258.74" y2="42.3" stroke="#505050" stroke-width="1.1"/>
<line x1="243.94" y1="63.3" x2="243.94" y2="65.89999999999999" stroke="#333" stroke-width="0.7"/>
<path d="M280.16,30.60 L281.96,32.60 L280.16,34.40 L278.36,32.60 Z" fill="#555555"/>
<line x1="280.16" y1="34.2" x2="280.16" y2="57.5" stroke="#505050" stroke-width="1.1"/>
<line x1="272.66" y1="34.2" x2="287.66" y2="34.2" stroke="#505050" stroke-width="1.1"/>
<line x1="272.66" y1="57.5" x2="287.66" y2="57.5" stroke="#505050" stroke-width="1.1"/>
<rect x="265.36" y="42.5" width="29.6" height="6.30" fill="#f4a460" stroke="#505050" stroke-width="1.1"/>
<line x1="265.36" y1="45.9" x2="294.96" y2="45.9" stroke="#505050" stroke-width="1.1"/>
<line x1="280.16" y1="63.3" x2="280.16" y2="65.89999999999999" stroke="#333" stroke-width="0.7"/>
<path d="M316.39,32.60 L318.19,34.65 L316.39,36.50 L314.59,34.65 Z" fill="#555555"/>
<path d="M316.39,62.40 L318.19,59.65 L316.39,57.10 L314.59,59.65 Z" fill="#555555"/>
<line x1="316.39" y1="36.3" x2="316.39" y2="57.3" stroke="#505050" stroke-width="1.1"/>
<line x1="308.89" y1="36.3" x2="323.89" y2="36.3" stroke="#505050" stroke-width="1.1"/>
<line x1="308.89" y1="57.3" x2="323.89" y2="57.3" stroke="#505050" stroke-width="1.1"/>
<rect x="301.59" y="44.1" width="29.6" height="5.60" fill="#f4a460" stroke="#505050" stroke-width="1.1"/>
<line x1="301.59" y1="46.9" x2="331.19" y2="46.9" stroke="#505050" stroke-width="1.1"/>
<line x1="316.39" y1="63.3" x2="316.39" y2="65.89999999999999" stroke="#333" stroke-width="0.7"/>
<text x="184.00" y="27.10" font-size="8.00" text-anchor="end" fill="#262626" textLength="11.93" lengthAdjust="spacingAndGlyphs">0.8</text>
<text x="184.00" y="50.20" font-size="8.00" text-anchor="end" fill="#262626" textLength="11.93" lengthAdjust="spacingAndGlyphs">0.6</text>
<text x="207.71" y="75.80" font-size="9.80" text-anchor="middle" fill="#262626" textLength="11.92" lengthAdjust="spacingAndGlyphs">AL</text>
<text x="207.71" y="86.40" font-size="9.80" text-anchor="middle" fill="#262626" textLength="34.79" lengthAdjust="spacingAndGlyphs">(0.693)</text>
<text x="243.94" y="75.80" font-size="9.80" text-anchor="middle" fill="#262626" textLength="13.55" lengthAdjust="spacingAndGlyphs">G1</text>
<text x="243.94" y="86.40" font-size="9.80" text-anchor="middle" fill="#262626" textLength="34.79" lengthAdjust="spacingAndGlyphs">(0.643)</text>
<text x="280.16" y="75.80" font-size="9.80" text-anchor="middle" fill="#262626" textLength="13.55" lengthAdjust="spacingAndGlyphs">G2</text>
<text x="280.16" y="86.40" font-size="9.80" text-anchor="middle" fill="#262626" textLength="34.79" lengthAdjust="spacingAndGlyphs">(0.612)</text>
<text x="316.39" y="75.80" font-size="9.80" text-anchor="middle" fill="#262626" textLength="13.55" lengthAdjust="spacingAndGlyphs">G3</text>
<text x="316.39" y="86.40" font-size="9.80" text-anchor="middle" fill="#262626" textLength="34.79" lengthAdjust="spacingAndGlyphs">(0.601)</text>
<rect x="387.6" y="22.8" width="144.80" height="40.30" fill="none" stroke="#555" stroke-width="0.8"/>
<line x1="385.0" y1="28.6" x2="387.6" y2="28.6" stroke="#333" stroke-width="0.7"/>
<line x1="385.0" y1="49.7" x2="387.6" y2="49.7" stroke="#333" stroke-width="0.7"/>
<line x1="405.70" y1="30.1" x2="405.70" y2="44.6" stroke="#505050" stroke-width="1.1"/>
<line x1="398.20" y1="30.1" x2="413.20" y2="30.1" stroke="#505050" stroke-width="1.1"/>
<line x1="398.20" y1="44.6" x2="413.20" y2="44.6" stroke="#505050" stroke-width="1.1"/>
<rect x="390.90" y="35.5" width="29.6" height="4.00" fill="#b4825f" stroke="#5a5048" stroke-width="1.0"/>
<line x1="405.70" y1="63.1" x2="405.70" y2="65.7" stroke="#333" stroke-width="0.7"/>
<path d="M441.90,23.40 L443.70,24.40 L441.90,25.20 L440.10,24.40 Z" fill="#555555"/>
<path d="M441.90,56.70 L443.70,53.15 L441.90,49.80 L440.10,53.15 Z" fill="#555555"/>
<line x1="441.90" y1="25.0" x2="441.90" y2="50.0" stroke="#505050" stroke-width="1.1"/>
<line x1="434.40" y1="25.0" x2="449.40" y2="25.0" stroke="#505050" stroke-width="1.1"/>
<line x1="434.40" y1="50.0" x2="449.40" y2="50.0" stroke="#505050" stroke-width="1.1"/>
<rect x="427.10" y="34.8" width="29.6" height="6.70" fill="#f4a460" stroke="#505050" stroke-width="1.1"/>
<line x1="427.10" y1="38.2" x2="456.70" y2="38.2" stroke="#505050" stroke-width="1.1"/>
<line x1="441.90" y1="63.1" x2="441.90" y2="65.7" stroke="#333" stroke-width="0.7"/>
<path d="M478.10,24.10 L479.90,26.70 L478.10,29.10 L476.30,26.70 Z" fill="#555555"/>
<path d="M478.10,56.20 L479.90,52.70 L478.10,49.40 L476.30,52.70 Z" fill="#555555"/>
<line x1="478.10" y1="28.9" x2="478.10" y2="49.6" stroke="#505050" stroke-width="1.1"/>
<line x1="470.60" y1="28.9" x2="485.60" y2="28.9" stroke="#505050" stroke-width="1.1"/>
<line x1="470.60" y1="49.6" x2="485.60" y2="49.6" stroke="#505050" stroke-width="1.1"/>
<rect x="463.30" y="36.9" width="29.6" height="5.80" fill="#f4a460" stroke="#505050" stroke-width="1.1"/>
<line x1="463.30" y1="39.8" x2="492.90" y2="39.8" stroke="#505050" stroke-width="1.1"/>
<line x1="478.10" y1="63.1" x2="478.10" y2="65.7" stroke="#333" stroke-width="0.7"/>
<path d="M514.30,25.30 L516.10,29.10 L514.30,32.70 L512.50,29.10 Z" fill="#555555"/>
<path d="M514.30,63.90 L516.10,60.40 L514.30,57.10 L512.50,60.40 Z" fill="#555555"/>
<line x1="514.30" y1="32.5" x2="514.30" y2="57.3" stroke="#505050" stroke-width="1.1"/>
<line x1="506.80" y1="32.5" x2="521.80" y2="32.5" stroke="#505050" stroke-width="1.1"/>
<line x1="506.80" y1="57.3" x2="521.80" y2="57.3" stroke="#505050" stroke-width="1.1"/>
<rect x="499.50" y="41.7" width="29.6" height="6.80" fill="#f4a460" stroke="#505050" stroke-width="1.1"/>
<line x1="499.50" y1="44.9" x2="529.10" y2="44.9" stroke="#505050" stroke-width="1.1"/>
<line x1="514.30" y1="63.1" x2="514.30" y2="65.7" stroke="#333" stroke-width="0.7"/>
<text x="382.00" y="31.50" font-size="8.00" text-anchor="end" fill="#262626" textLength="16.70" lengthAdjust="spacingAndGlyphs">0.75</text>
<text x="382.00" y="52.60" font-size="8.00" text-anchor="end" fill="#262626" textLength="16.70" lengthAdjust="spacingAndGlyphs">0.50</text>
<text x="405.70" y="75.80" font-size="9.80" text-anchor="middle" fill="#262626" textLength="11.92" lengthAdjust="spacingAndGlyphs">AL</text>
<text x="405.70" y="86.40" font-size="9.80" text-anchor="middle" fill="#262626" textLength="34.79" lengthAdjust="spacingAndGlyphs">(0.647)</text>
<text x="441.90" y="75.80" font-size="9.80" text-anchor="middle" fill="#262626" textLength="13.55" lengthAdjust="spacingAndGlyphs">G1</text>
<text x="441.90" y="86.40" font-size="9.80" text-anchor="middle" fill="#262626" textLength="34.79" lengthAdjust="spacingAndGlyphs">(0.639)</text>
<text x="478.10" y="75.80" font-size="9.80" text-anchor="middle" fill="#262626" textLength="13.55" lengthAdjust="spacingAndGlyphs">G2</text>
<text x="478.10" y="86.40" font-size="9.80" text-anchor="middle" fill="#262626" textLength="34.79" lengthAdjust="spacingAndGlyphs">(0.617)</text>
<text x="514.30" y="75.80" font-size="9.80" text-anchor="middle" fill="#262626" textLength="13.55" lengthAdjust="spacingAndGlyphs">G3</text>
<text x="514.30" y="86.40" font-size="9.80" text-anchor="middle" fill="#262626" textLength="34.79" lengthAdjust="spacingAndGlyphs">(0.557)</text>
<text x="262.00" y="18.70" font-size="12.00" text-anchor="middle" fill="#262626" textLength="34.23" lengthAdjust="spacingAndGlyphs">ICD-9</text>
<text x="459.70" y="18.70" font-size="12.00" text-anchor="middle" fill="#262626" textLength="42.46" lengthAdjust="spacingAndGlyphs">ICD-10</text>
<text transform="translate(167.2,43.2) rotate(-90)" x="0" y="0" font-size="10.6" text-anchor="middle" fill="#262626" textLength="21.99" lengthAdjust="spacingAndGlyphs">AUC</text>
<text transform="translate(360.0,43.2) rotate(-90)" x="0" y="0" font-size="10.6" text-anchor="middle" fill="#262626" textLength="21.99" lengthAdjust="spacingAndGlyphs">AUC</text>
</svg></body></html>
